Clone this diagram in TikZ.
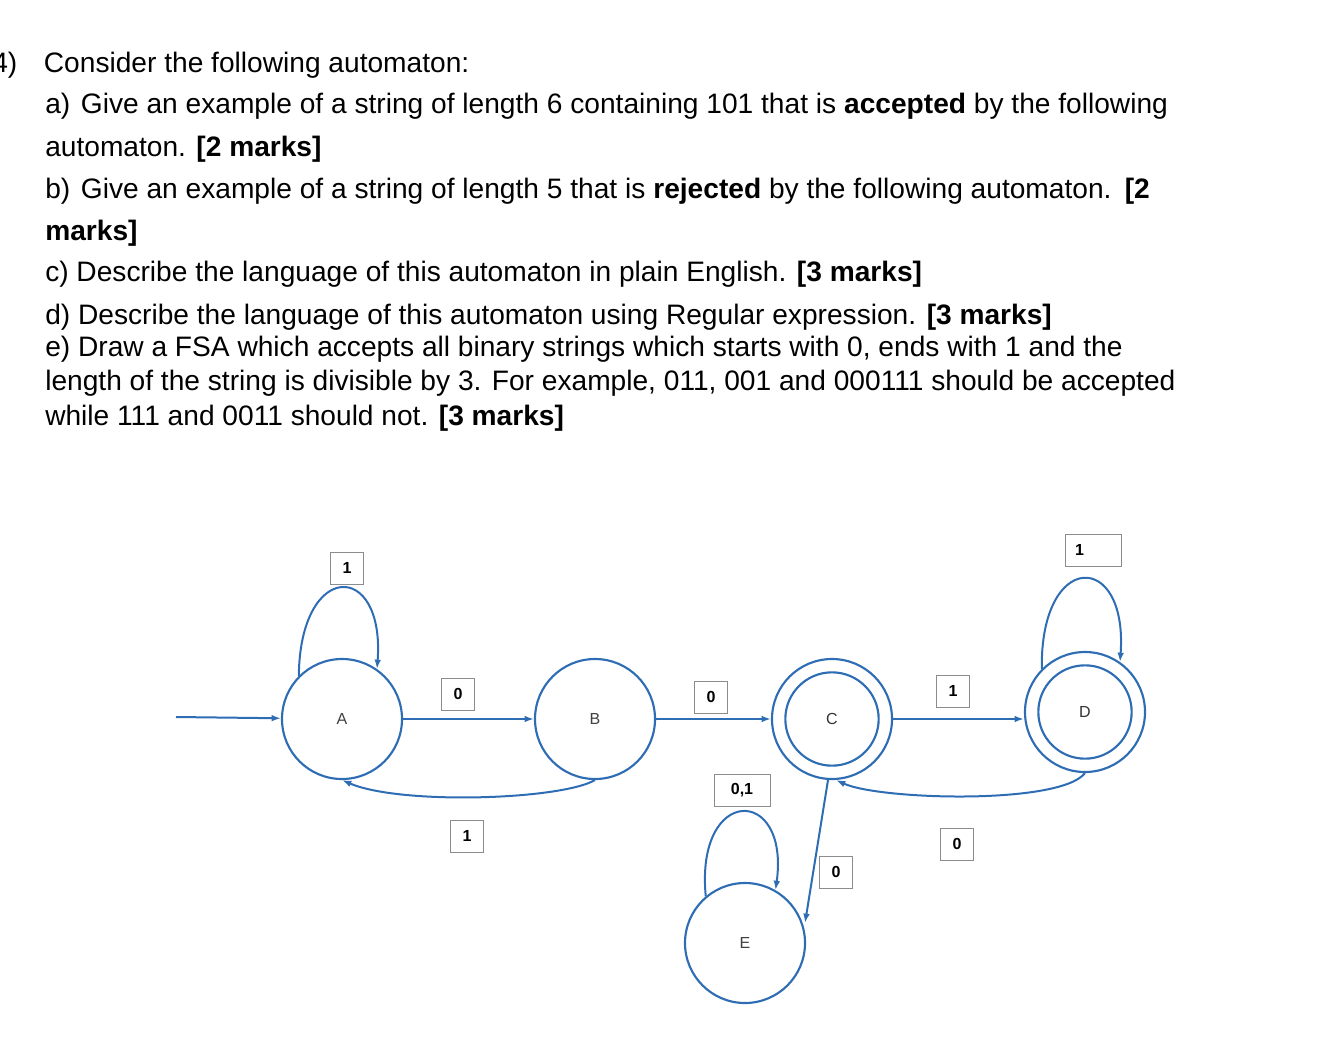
\documentclass[tikz,border=0pt]{standalone}
\usepackage{fontspec}
\setmainfont{Liberation Sans}
\usetikzlibrary{arrows.meta}
\definecolor{fsa}{HTML}{2E6DB4}
\begin{document}
\begin{tikzpicture}[x=0.75pt,y=-0.75pt,
  st/.style={circle,draw=fsa,line width=1.6pt,minimum size=90pt,inner sep=0pt,text=black!75,font=\fontsize{12}{14}\selectfont},
  inner/.style={circle,draw=fsa,line width=1.6pt,minimum size=70pt,inner sep=0pt,text=black!80,font=\fontsize{12}{14}\selectfont},
  lab/.style={draw=black!45,line width=0.6pt,fill=white,font=\bfseries\fontsize{12}{14}\selectfont,minimum width=25pt,minimum height=24pt,inner sep=1pt},
  tr/.style={draw=fsa,line width=1.5pt,-{Latex[length=7pt,width=5pt]}},
  q/.style={anchor=base west,font=\fontsize{21.1}{24}\selectfont,inner sep=0pt}]
\useasboundingbox (0,0) rectangle (1332,1050);
\node[q] (t0) at (-8,72) {4)\hspace{20pt}Consider the following automaton:};
\node[q] (t1) at (45,113) {a)\hspace{8pt}Give an example of a string of length 6 containing 101 that is \textbf{accepted} by the following};
\node[q] (t2) at (45,156) {automaton. \textbf{[2 marks]}};
\node[q] (t3) at (45,198) {b)\hspace{8pt}Give an example of a string of length 5 that is \textbf{rejected} by the following automaton.\hspace{10pt}\textbf{[2}};
\node[q] (t4) at (45,240) {\textbf{marks]}};
\node[q] (t5) at (45,281) {c) Describe the language of this automaton in plain English. \textbf{[3 marks]}};
\node[q] (t6) at (45,324) {d) Describe the language of this automaton using Regular expression. \textbf{[3 marks]}};
\node[q] (t7) at (45,356) {e) Draw a FSA which accepts all binary strings which starts with 0, ends with 1 and the};
\node[q] (t8) at (45,390) {length of the string is divisible by 3. For example, 011, 001 and 000111 should be accepted};
\node[q] (t9) at (45,425) {while 111 and 0011 should not. \textbf{[3 marks]}};

\node[st] (A) at (342,719) {A};
\node[st] (B) at (595,719) {B};
\node[st] (C) at (832,719) {};
\node[inner] (Ci) at (832,719) {C};
\node[st] (D) at (1085,712) {};
\node[inner] (Di) at (1085,712) {D};
\node[st] (E) at (745,943) {E};
\coordinate (s) at (176,717);

\draw[tr] (s) -- (A);
\draw[tr] (A) -- (B);
\draw[tr] (B) -- (C);
\draw[tr] (C.east) -- (D.west |- C.east);
\draw[tr] (B.south) .. controls (560,800) and (400,805) .. (A.south);
\draw[tr] (D.south) .. controls (1060,805) and (880,800) .. ([xshift=3pt]C.south);
\draw[tr] ([xshift=-3pt]C.south) -- ([shift={(60,-20)}]E.center);
\draw[tr] (A.135) .. controls (300,560) and (385,560) .. (A.55);
\draw[tr] (D.135) .. controls (1040,550) and (1128,550) .. (D.55);
\draw[tr] (E.130) .. controls (695,785) and (790,785) .. (E.60);

\node[lab] (l1) at (347,568) {1};
\node[lab] (l2) at (458,694) {0};
\node[lab] (l3) at (711,697) {0};
\node[lab] (l4) at (953,691) {1};
\node[lab,minimum width=42pt] (l5) at (1093,550) {\hspace*{-20pt}1};
\node[lab,minimum width=42pt] (l6) at (742,790) {0,1};
\node[lab] (l7) at (467,836) {1};
\node[lab] (l8) at (836,872) {0};
\node[lab] (l9) at (957,844) {0};
\end{tikzpicture}
\end{document}
